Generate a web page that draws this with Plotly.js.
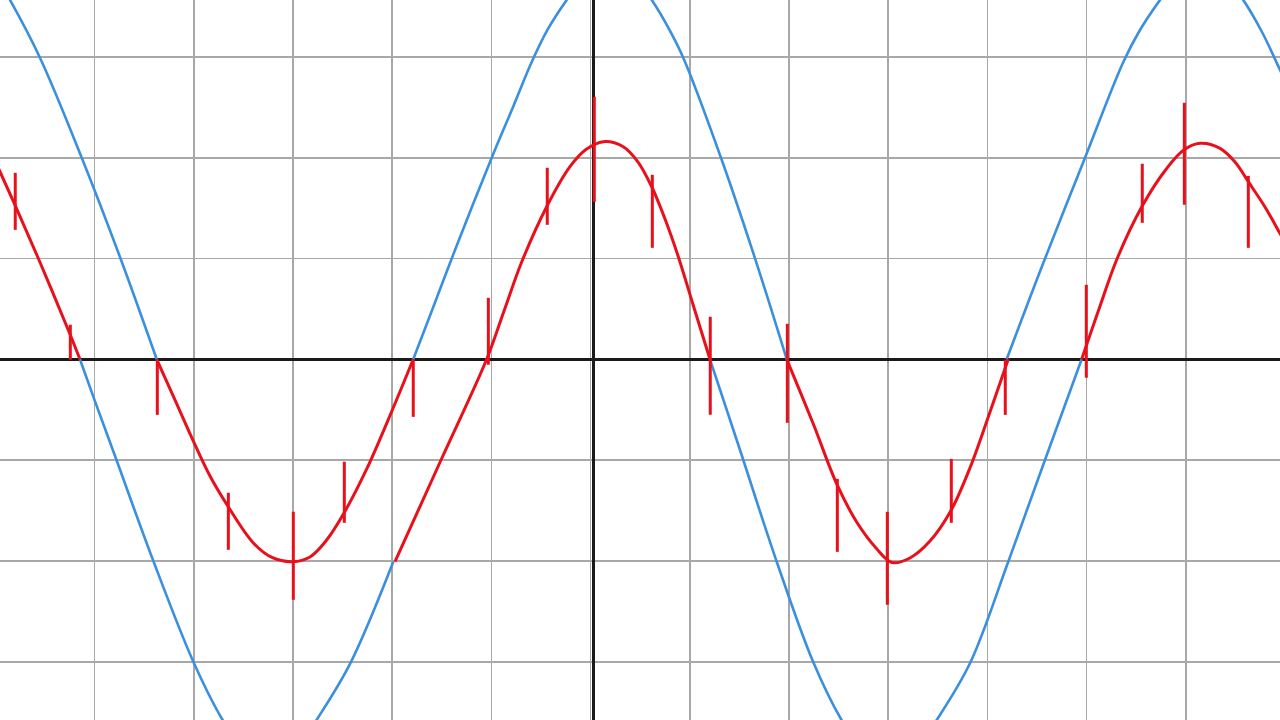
<!DOCTYPE html>
<html>
<head>
<meta charset="utf-8">
<script src="https://cdn.plot.ly/plotly-3.0.1.min.js"></script>
<style>
  html, body { margin: 0; padding: 0; background: #ffffff; }
  #chart { width: 1280px; height: 720px; }
</style>
</head>
<body>
<div id="chart"></div>
<script>
// ---- Blue curve pieces (grid units) ----
const blue1X = [-6.182, -5.880, -5.578, -5.157, -4.764, -4.401];
const blue1Y = [4.061, 3.565, 2.992, 2.000, 0.995, 0.000];

const blue2X = [-5.175, -5.023, -4.801, -4.435, -4.032, -3.738, -3.511, -3.259, -3.007, -2.788, -2.450, -2.016];
const blue2Y = [0.000, -0.417, -1.014, -2.001, -3.000, -3.576, -3.901, -4.025, -3.901, -3.576, -3.016, -2.008];

const blue3X = [-1.815, -1.613, -1.394, -1.024, -0.809, -0.621, -0.457, -0.268, -0.053, 0.159, 0.370, 0.589, 0.753, 0.907, 1.287, 1.630, 1.950];
const blue3Y = [0.000, 0.519, 1.085, 2.000, 2.503, 2.949, 3.277, 3.565, 3.842, 3.932, 3.842, 3.565, 3.296, 2.992, 2.000, 1.002, 0.000];

const blue4X = [1.176, 1.479, 1.849, 2.218, 2.502, 2.729, 2.981, 3.233, 3.462, 3.797, 4.183, 4.553, 4.923];
const blue4Y = [0.000, -0.900, -2.008, -3.006, -3.578, -3.899, -4.025, -3.899, -3.578, -3.016, -2.008, -0.999, 0.000];

const blue5X = [4.167, 4.536, 4.957, 5.343, 5.511, 5.713, 5.921, 6.133, 6.345, 6.552, 6.741, 6.923, 7.124];
const blue5Y = [0.000, 0.955, 2.000, 2.949, 3.267, 3.565, 3.830, 3.921, 3.830, 3.565, 3.247, 2.870, 2.453];

// ---- Red curve pieces (grid units) ----
const red1X = [-6.082, -5.981, -5.830, -5.578, -5.275, -5.175];
const red1Y = [2.086, 1.861, 1.531, 0.963, 0.249, 0.000];

const red2X = [-4.401, -4.216, -4.032, -3.864, -3.685, -3.427, -3.239, -3.030, -2.856, -2.688, -2.513, -2.284, -2.026, -1.815];
const red2Y = [0.000, -0.404, -0.811, -1.158, -1.455, -1.822, -1.966, -2.008, -1.961, -1.793, -1.525, -1.088, -0.503, 0.000];

const red3X = [-1.999, -1.535, -1.075, -0.900, -0.722, -0.470, -0.235, -0.074, 0.101, 0.302, 0.451, 0.589, 0.723, 0.857, 1.016, 1.176];
const red3Y = [-2.008, -0.999, 0.000, 0.479, 0.965, 1.514, 1.911, 2.081, 2.159, 2.109, 1.957, 1.712, 1.392, 1.018, 0.509, 0.000];

const red4X = [1.950, 2.218, 2.454, 2.655, 2.850, 3.011, 3.192, 3.394, 3.603, 3.797, 3.999, 4.183];
const red4Y = [0.000, -0.642, -1.237, -1.614, -1.872, -2.016, -1.971, -1.803, -1.505, -1.078, -0.523, 0.000];

const red5X = [4.923, 5.098, 5.279, 5.528, 5.780, 5.955, 6.116, 6.318, 6.469, 6.603, 6.771, 6.923, 7.124];
const red5Y = [0.000, 0.499, 0.995, 1.511, 1.893, 2.078, 2.143, 2.093, 1.957, 1.762, 1.511, 1.247, 0.886];

// ---- Error bars (centre and half length, grid units) ----
const errX = [-5.827, -5.272, -4.395, -3.679, -3.024, -2.510, -1.815, -1.058, -0.464, 0.010, 0.595,
              1.179, 1.956, 2.460, 2.964, 3.609, 4.153, 4.970, 5.534, 5.958, 6.603];
const errY = [1.567, 0.169, -0.278, -1.607, -1.949, -1.319, -0.288, 0.278, 1.617, 2.083, 1.468,
              -0.064, -0.139, -1.548, -1.974, -1.305, -0.278, 0.278, 1.647, 2.039, 1.463];
const errHalf = [0.283, 0.174, 0.273, 0.283, 0.437, 0.303, 0.283, 0.332, 0.283, 0.521, 0.362,
                 0.486, 0.491, 0.362, 0.461, 0.317, 0.273, 0.461, 0.293, 0.506, 0.357];

const BLUE = '#3a8fde';
const RED = '#e8101a';

function curve(x, y, color, w) {
  return {
    type: 'scatter', mode: 'lines', x: x, y: y,
    line: { color: color, width: w, shape: 'spline', smoothing: 1 },
    hoverinfo: 'skip', showlegend: false
  };
}

const traces = [
  curve(blue1X, blue1Y, BLUE, 2.6),
  curve(blue2X, blue2Y, BLUE, 2.6),
  curve(blue3X, blue3Y, BLUE, 2.6),
  curve(blue4X, blue4Y, BLUE, 2.6),
  curve(blue5X, blue5Y, BLUE, 2.6),
  curve(red1X, red1Y, RED, 3),
  curve(red2X, red2Y, RED, 3),
  curve(red3X, red3Y, RED, 3),
  curve(red4X, red4Y, RED, 3),
  curve(red5X, red5Y, RED, 3),
  {
    type: 'scatter', mode: 'markers', x: errX, y: errY,
    marker: { size: 1, color: 'rgba(0,0,0,0)' },
    error_y: { type: 'data', array: errHalf, visible: true, color: RED, thickness: 3, width: 0 },
    hoverinfo: 'skip', showlegend: false
  }
];

const layout = {
  width: 1280, height: 720,
  margin: { l: 0, r: 0, t: 0, b: 0, pad: 0 },
  paper_bgcolor: '#ffffff', plot_bgcolor: '#ffffff',
  showlegend: false,
  xaxis: {
    range: [-593.3 / 99.2, (1280 - 593.3) / 99.2],
    tick0: -0.028, dtick: 1,
    showgrid: true, gridcolor: '#a8a8a8', gridwidth: 1.6,
    zeroline: true, zerolinecolor: '#1a1a1a', zerolinewidth: 2.6,
    showticklabels: false, ticks: '', showline: false, fixedrange: true
  },
  yaxis: {
    range: [-(720 - 359.3) / 100.8, 359.3 / 100.8],
    tick0: 0, dtick: 1,
    showgrid: true, gridcolor: '#a8a8a8', gridwidth: 1.6,
    zeroline: true, zerolinecolor: '#1a1a1a', zerolinewidth: 2.6,
    showticklabels: false, ticks: '', showline: false, fixedrange: true
  }
};

Plotly.newPlot('chart', traces, layout, { displayModeBar: false, staticPlot: true });
</script>
</body>
</html>
